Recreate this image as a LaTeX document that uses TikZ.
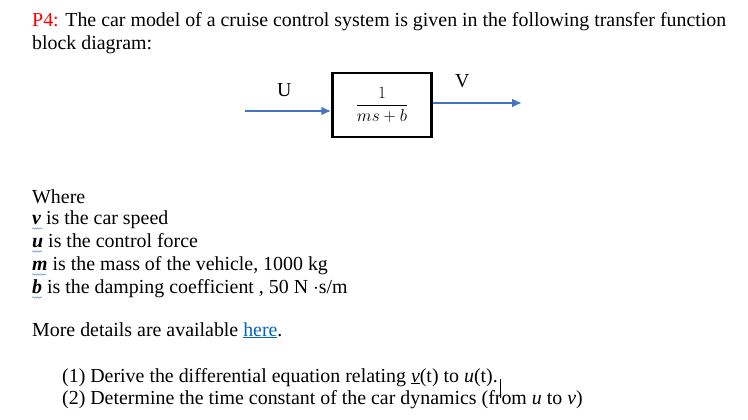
\documentclass[tikz,border=0pt]{standalone}
\usepackage{fontspec}
\setmainfont{Liberation Serif}
\usetikzlibrary{decorations.pathmorphing,arrows.meta}
\definecolor{arr}{RGB}{68,114,196}
\definecolor{lnk}{RGB}{5,99,193}
\tikzset{
  txt/.style={anchor=base west,inner sep=0pt,font=\fontsize{19.9}{23}\selectfont},
  sig/.style={draw=arr,line width=2.5pt,-{Latex[length=10pt,width=9pt]}},
  wavy/.style={draw=arr!70,line width=0.6pt,decorate,decoration={snake,amplitude=0.7pt,segment length=2.5pt}}
}
\begin{document}
\begin{tikzpicture}[x=1pt,y=-1pt]
\useasboundingbox (0,0) rectangle (748,420);
\node[txt] (t1) at (32,27) {\textcolor{red}{P4:} The car model of a cruise control system is given in the following transfer function};
\node[txt] (t2) at (32,50) {block diagram:};
\node[draw,line width=2.5pt,minimum width=99pt,minimum height=64pt,inner sep=0pt] (g) at (382,105)
  {\fontsize{19}{22}\selectfont$\displaystyle\frac{1}{ms+b}$};
\coordinate (in) at (245,111);
\coordinate (out) at (522,103);
\draw[sig] (in) -- (g.west|-in);
\draw[sig] (g.east|-out) -- (out);
\node[txt] (U) at (277,96) {U};
\node[txt] (V) at (455,88) {V};
\node[txt] (w0) at (32,203) {Where};
\node[txt] (w1) at (32,224) {\textbf{\textit{v}} is the car speed};
\node[txt] (w2) at (32,247) {\textbf{\textit{u}} is the control force};
\node[txt] (w3) at (32,270) {\textbf{\textit{m}} is the mass of the vehicle, 1000 kg};
\node[txt] (w4) at (32,293) {\textbf{\textit{b}} is the damping coefficient , 50 N $\cdot$s/m};
\draw[wavy] (32,228.5) -- (42,228.5);
\draw[wavy] (32,251.5) -- (42,251.5);
\draw[wavy] (32,274.5) -- (46,274.5);
\draw[wavy] (32,297.5) -- (42,297.5);
\node[txt] (more) at (32,336) {More details are available \textcolor{lnk}{\underline{here}}.};
\node[txt] (q1) at (62,382) {(1) Derive the differential equation relating \underline{\textit{v}}(t) to \textit{u}(t).};
\node[txt] (q2) at (62,404) {(2) Determine the time constant of the car dynamics (from \textit{u} to \textit{v})};
\draw[line width=0.7pt] ([xshift=2pt,yshift=3pt]q1.base east) -- ([xshift=2pt,yshift=-16pt]q1.base east);
\end{tikzpicture}
\end{document}
